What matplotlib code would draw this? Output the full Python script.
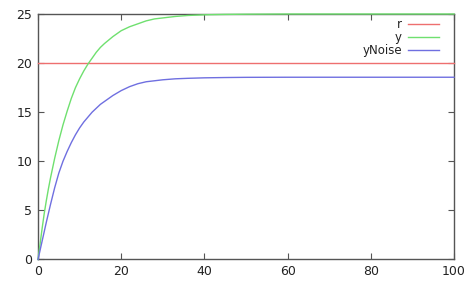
import numpy as np
import matplotlib
matplotlib.use("Agg")
import matplotlib.pyplot as plt

# values
t = [0, 0.5, 1, 1.5, 2, 2.5, 3, 4, 5, 6, 7, 8, 9, 10, 11, 12, 13, 14, 15, 16, 18, 20,
     22, 24, 26, 28, 30, 33, 36, 40, 45, 50, 60, 70, 80, 90, 100]
y = [0, 1.6, 3.2, 4.7, 6.0, 7.2, 8.3, 10.3, 12.1, 13.7, 15.1, 16.4, 17.5, 18.4, 19.2,
     19.9, 20.5, 21.1, 21.6, 22.0, 22.7, 23.3, 23.7, 24.0, 24.3, 24.5, 24.6, 24.75,
     24.85, 24.92, 24.96, 24.98, 25.0, 25.0, 25.0, 25.0, 25.0]
y_noise = [0, 0.95, 1.9, 2.85, 3.8, 4.7, 5.6, 7.3, 8.8, 10.0, 11.0, 11.9, 12.7, 13.4,
           14.0, 14.5, 15.0, 15.4, 15.8, 16.1, 16.7, 17.2, 17.6, 17.9, 18.1, 18.2, 18.3,
           18.4, 18.45, 18.5, 18.53, 18.55, 18.56, 18.56, 18.56, 18.56, 18.56]
r = [20] * len(t)

series_names = ["r", "y", "yNoise"]
series_colors = ["#ee6f6f", "#6fe06f", "#6f6fe0"]

x_ticks = [0, 20, 40, 60, 80, 100]
y_ticks = [0, 5, 10, 15, 20, 25]

fig = plt.figure(figsize=(4.74, 2.84), dpi=100)
ax = fig.add_axes([0.0802, 0.0863, 0.8776, 0.8644])

for vals, name, col in zip([r, y, y_noise], series_names, series_colors):
    ax.plot(t, vals, color=col, lw=1.0, label=name, zorder=3, clip_on=False)

ax.set_xlim(0, 100)
ax.set_ylim(0, 25)
ax.set_xticks(x_ticks)
ax.set_yticks(y_ticks)
ax.tick_params(direction="in", length=4, width=0.8, color="#555555",
               top=True, right=True, labelsize=9, labelcolor="#222222", pad=4)
for s in ax.spines.values():
    s.set_color("#555555")
    s.set_linewidth(1.0)

# legend, gnuplot style: right-aligned labels then a line sample
for i, (name, col) in enumerate(zip(series_names, series_colors)):
    yy = 0.959 - i * 0.053
    ax.text(0.875, yy, name, transform=ax.transAxes, ha="right", va="center",
            fontsize=8.5, color="#222222")
    ax.plot([0.89, 0.965], [yy, yy], transform=ax.transAxes, color=col, lw=1.0,
            clip_on=False)

fig.savefig("out.png", dpi=100)
